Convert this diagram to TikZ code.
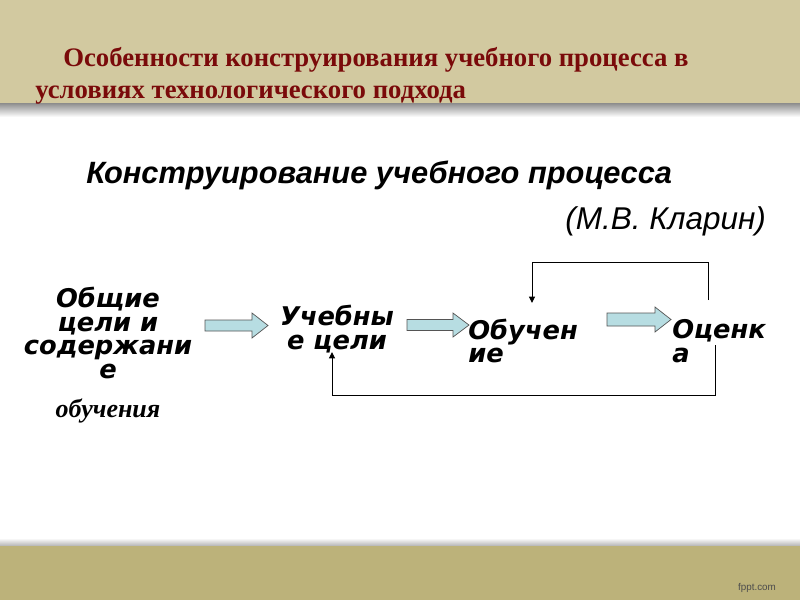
\documentclass[tikz,border=0pt]{standalone}
\usepackage{fontspec}
\usetikzlibrary{arrows.meta,calc,positioning}
\setmainfont{Liberation Serif}
\newfontfamily\headfont{Liberation Serif}
\newfontfamily\sansfont{Liberation Sans}
\newfontfamily\boxfont[BoldItalicFont={DejaVu Sans Bold Oblique}]{DejaVu Sans}
\definecolor{band}{HTML}{D2C9A0}
\definecolor{bandlow}{HTML}{BCB27A}
\definecolor{titlered}{HTML}{7A0A0A}
\definecolor{arrowfill}{HTML}{B7DDE2}
\definecolor{arrowline}{HTML}{555555}
\tikzset{blk/.style={draw=arrowline, fill=arrowfill, line width=.5pt}, fb/.style={-{Triangle[length=1.6mm,width=1.5mm]}, line width=.7pt}, stage/.style={font=\boxfont\bfseries\itshape\fontsize{18.3}{16.8}\selectfont, inner sep=0pt}, ttl/.style={font=\headfont\bfseries\fontsize{19}{20}\selectfont, text=titlered, anchor=base west, inner sep=0pt}}
\newcommand{\blockarr}[4]{\draw[blk] ($(#1)+(0,-#3)$) -- ++({#2-16},0) -- ++(0,{#3-#4}) -- ($(#1)+(#2,0)$) -- ($(#1)+({#2-16},#4)$) -- ++(0,{#3-#4}) -- ($(#1)+(0,#3)$) -- cycle;}

\begin{document}
\begin{tikzpicture}[x=0.025cm, y=-0.025cm]
\useasboundingbox (0,0) rectangle (800,600);
\fill[white] (0,0) rectangle (800,600);
\fill[band] (0,0) rectangle (800,103); \shade[top color=black!45, bottom color=white] (0,103) rectangle (800,117);
\shade[top color=white, bottom color=black!30] (0,538) rectangle (800,546); \fill[bandlow] (0,546) rectangle (800,600);
\node[font=\sansfont\fontsize{7}{8}\selectfont, text=black!70] (fppt) at (757,588) {fppt.com};
\node[ttl] (ttl1) at (63,66) {Особенности конструирования учебного процесса в};
\node[ttl] (ttl2) at (35,98) {условиях технологического подхода};
\node[font=\sansfont\bfseries\itshape\fontsize{21.9}{24}\selectfont, anchor=base west, inner sep=0pt] (head) at (86,183) {Конструирование учебного процесса};
\node[font=\sansfont\itshape\fontsize{22.4}{24}\selectfont, anchor=base west, inner sep=0pt] (author) at (565,229) {(М.В. Кларин)};
\node[stage, align=center] (goals) at (108,333) {Общие\\цели и\\содержани\\е};
\node[font=\bfseries\itshape\fontsize{18.5}{20}\selectfont, anchor=base, inner sep=0pt] (edu) at (108,417) {обучения};
\node[stage, align=center] (aims) at (337,329) {Учебны\\е цели};
\node[stage, align=left, anchor=west] (learn) at (468,341) {Обучен\\ие};
\node[stage, align=left, anchor=west] (rate) at (672,341) {Оценк\\а};
\coordinate (a1) at (205,325.5); \coordinate (a2) at (407,325); \coordinate (a3) at (607,319.5);
\blockarr{a1}{63}{5.5}{12.5} \blockarr{a2}{62}{5.5}{12} \blockarr{a3}{64}{6.5}{12.5}
\coordinate (t1) at (708,300); \coordinate (t2) at (532,303);
\draw[fb] (t1) -- ++(0,-38) -| (t2);
\coordinate (b1) at (715,345); \coordinate (b2) at (332,352);
\draw[fb] (b1) -- ++(0,50) -| (b2);
\end{tikzpicture}
\end{document}
